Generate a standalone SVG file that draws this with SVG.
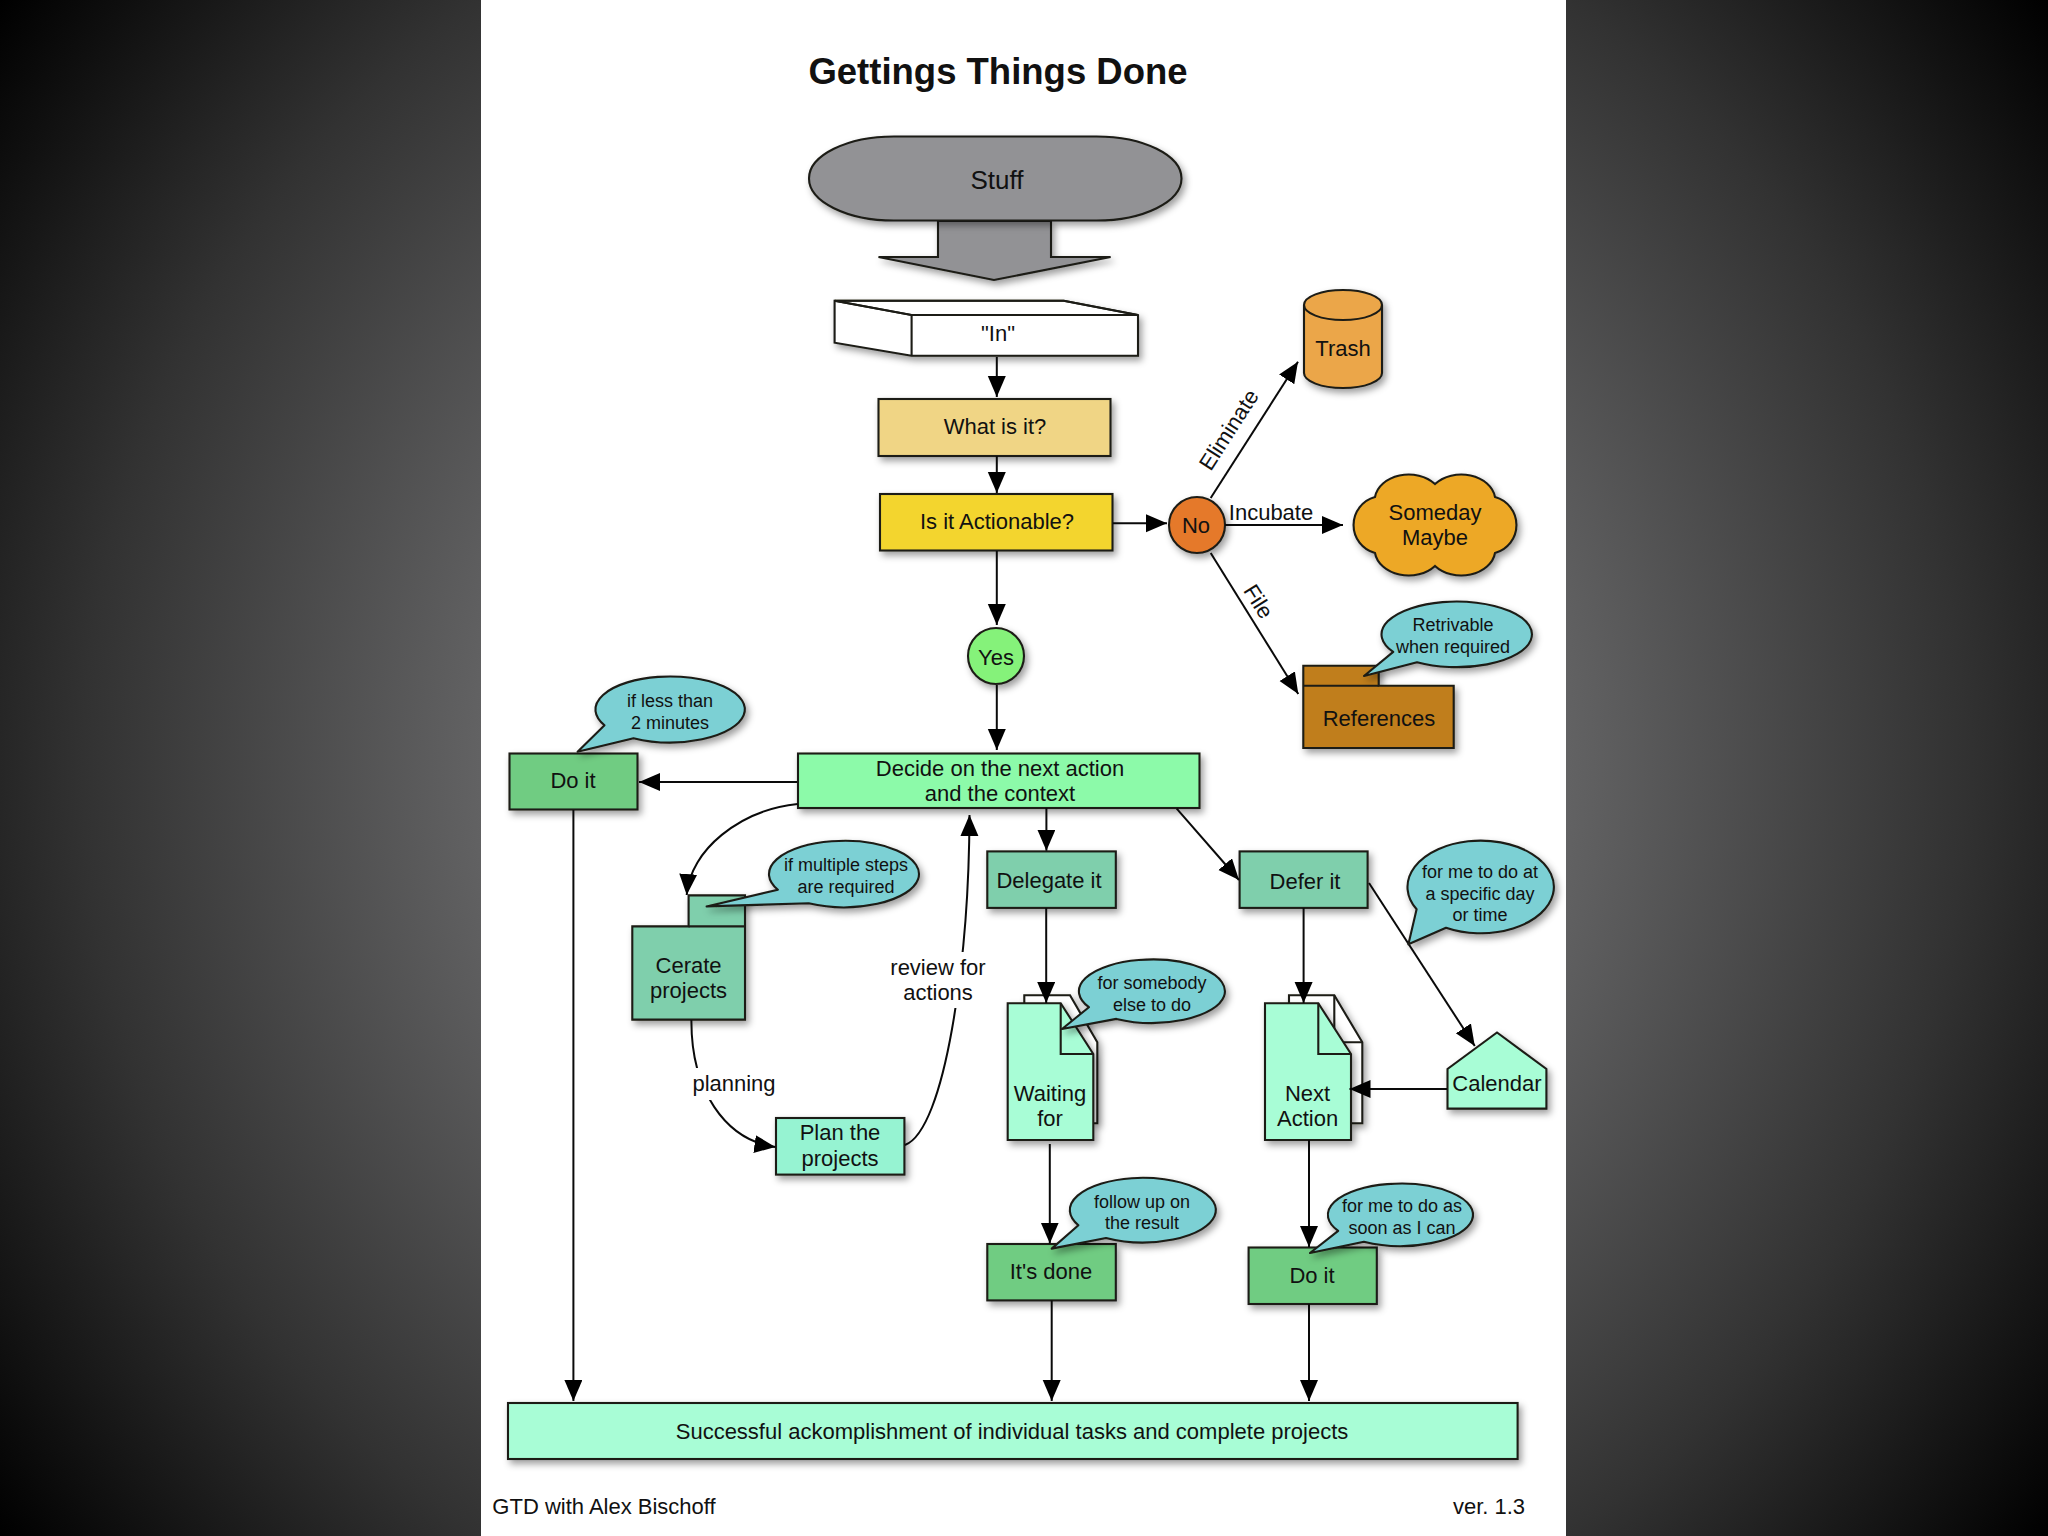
<svg xmlns="http://www.w3.org/2000/svg" width="2048" height="1536" viewBox="0 0 2048 1536">
<defs>
<radialGradient id="bg" gradientUnits="userSpaceOnUse" cx="1024" cy="768" r="1280">
<stop offset="0" stop-color="#828284"/><stop offset="0.425" stop-color="#626263"/><stop offset="0.735" stop-color="#323232"/><stop offset="0.8" stop-color="#262626"/><stop offset="1" stop-color="#000"/>
</radialGradient>
<linearGradient id="topface" x1="0" y1="0" x2="1" y2="0"><stop offset="0" stop-color="#ececec"/><stop offset="1" stop-color="#d4d4d4"/></linearGradient>
<filter id="sh" x="-20%" y="-20%" width="150%" height="150%"><feDropShadow dx="3" dy="4" stdDeviation="3.5" flood-color="#000" flood-opacity="0.38"/></filter>
<marker id="ah" markerUnits="userSpaceOnUse" markerWidth="24" markerHeight="20" refX="21" refY="9" orient="auto"><path d="M0 0L21 9L0 18Z" fill="#000"/></marker>
</defs>
<style>
.n{stroke:#1c1c16;stroke-width:2.1;stroke-linejoin:miter;filter:url(#sh)}
.i{fill:none;stroke:#1c1c16;stroke-width:2.1}
.c{fill:none;stroke:#0a0a0a;stroke-width:2;marker-end:url(#ah)}
.b{fill:#7bd0d4;stroke:#1c1c16;stroke-width:2.1;stroke-linejoin:round;filter:url(#sh)}
text{font-family:"Liberation Sans",Arial,sans-serif;font-size:22px;fill:#111;text-anchor:middle}
.s{font-size:18px}
.lgr{fill:#7fcfac}.dgr{fill:#6fcc82}.mint{fill:#a8fdd6}
</style>
<rect width="2048" height="1536" fill="url(#bg)"/>
<rect x="481" y="0" width="1085" height="1536" fill="#fff"/>
<text id="title" x="998" y="84" style="font-size:36.5px;font-weight:bold">Gettings Things Done</text>
<g id="nodes">
<g id="stuff"><path class="n" fill="#929295" d="M938 221V257H878.500L994 280L1110.600 257H1051V221Z"/><rect class="n" x="809" y="136.500" width="372.500" height="84" rx="85" ry="42" fill="#929295"/><text x="997" y="189" style="font-size:26px">Stuff</text></g>
<g id="in"><path class="n" fill="#fff" d="M834.600 300.700H1063.700L1138 315V355.700H911.600L834.600 342.700Z"/><path fill="url(#topface)" class="i" d="M834.600 300.700H1063.700L1138 315H911.600Z"/><path class="i" d="M834.600 300.700L911.600 315V355.700M911.600 315H1138"/><text x="998" y="341">"In"</text></g>
<g id="what"><rect class="n" x="878.500" y="399" width="232" height="57" fill="#f0d585"/><text x="995" y="434">What is it?</text></g>
<g id="actionable"><rect class="n" x="880" y="494" width="232.500" height="56.500" fill="#f3d52f"/><text x="997" y="529">Is it Actionable?</text></g>
<g id="no"><circle class="n" cx="1197" cy="525" r="28" fill="#e5792a"/><text x="1196" y="533">No</text></g>
<g id="trash"><path class="n" fill="#eba648" d="M1304 305A39 15 0 0 1 1382 305V373A39 15 0 0 1 1304 373Z"/><path class="i" d="M1304 305A39 15 0 0 0 1382 305"/><text x="1343" y="356">Trash</text></g>
<g id="someday"><path class="n" fill="#eda826" d="M1435 484A34 26 0 0 1 1495 497A29 29 0 0 1 1495 553A34 26 0 0 1 1435 566A34 26 0 0 1 1375 553A29 29 0 0 1 1375 497A34 26 0 0 1 1435 484Z"/><text x="1435" y="520">Someday</text><text x="1435" y="545">Maybe</text></g>
<g id="references"><path class="n" fill="#c07e1b" d="M1303.300 665.700H1378.700V685.700H1453.700V748H1303.300Z"/><path class="i" d="M1303.300 685.700H1378.700"/><text x="1379" y="726">References</text></g>
<g id="yes"><circle class="n" cx="996" cy="656" r="28" fill="#85f27a"/><text x="996" y="665">Yes</text></g>
<g id="decide"><rect class="n" x="798" y="753.500" width="401.500" height="54.500" fill="#8cfaa9"/><text x="1000" y="776">Decide on the next action</text><text x="1000" y="801">and the context</text></g>
<g id="doit1"><rect class="n dgr" x="509.500" y="753.500" width="128" height="56"/><text x="573" y="788">Do it</text></g>
<g id="projects"><path class="n lgr" d="M688.600 895.400H745V1019.600H632.300V926.400H688.600Z"/><path class="i" d="M688.600 926.400H745"/><text x="688.600" y="973">Cerate</text><text x="688.600" y="998">projects</text></g>
<g id="plan"><rect class="n" x="776" y="1118" width="128.400" height="56.600" fill="#96f3d2"/><text x="840" y="1140">Plan the</text><text x="840" y="1166">projects</text></g>
<g id="delegate"><rect class="n lgr" x="987.300" y="851.400" width="128.500" height="56.500"/><text x="1049" y="888">Delegate it</text></g>
<g id="defer"><rect class="n lgr" x="1239.600" y="851.400" width="128" height="56.500"/><text x="1305" y="889">Defer it</text></g>
<g id="waiting"><path class="n" fill="#fff" d="M1024.300 1003V995.300H1070L1097.300 1042.300V1123.300H1093"/><path class="n mint" d="M1007.700 1003.300H1060.700L1093.300 1054V1140H1007.700Z"/><path class="i" d="M1060.700 1003.300V1054H1093.300"/><text x="1050" y="1101">Waiting</text><text x="1050" y="1126">for</text></g>
<g id="next"><path class="n" fill="#fff" d="M1289 1003V995.300H1334.300L1362.300 1042.300V1123.300H1351"/><path class="i" d="M1334.300 995.300V1042.300H1362.300"/><path class="n mint" d="M1265 1003.300H1318.300L1351 1054V1140H1265Z"/><path class="i" d="M1318.300 1003.300V1054H1351"/><text x="1307.600" y="1101">Next</text><text x="1307.600" y="1126">Action</text></g>
<g id="calendar"><path class="n mint" d="M1447.500 1108.600H1546.400V1069L1497 1032.500L1447.500 1069Z"/><text x="1497" y="1091">Calendar</text></g>
<g id="done"><rect class="n dgr" x="987.300" y="1244" width="128.500" height="56.400"/><text x="1051" y="1279">It's done</text></g>
<g id="doit2"><rect class="n dgr" x="1248.600" y="1247.500" width="128.200" height="56.500"/><text x="1312" y="1283">Do it</text></g>
<g id="success"><rect class="n mint" x="508" y="1403" width="1009.600" height="56"/><text x="1012" y="1439">Successful ackomplishment of individual tasks and complete projects</text></g>
</g>
<g id="connectors">
<path class="c" d="M996.800 357V397"/>
<path class="c" d="M996.800 456V493"/>
<path class="c" d="M1113 523.300H1167"/>
<path class="c" d="M996.800 551V625"/>
<path class="c" d="M996.800 685V750"/>
<path class="c" d="M1210.700 498L1298 361.700"/>
<path class="c" d="M1225 525H1343"/>
<path class="c" d="M1210.700 553L1298.300 694"/>
<path class="c" d="M797 782H639"/>
<path class="c" d="M573.400 810V1401"/>
<path class="c" d="M797.600 804C740 810 690 850 686.700 895"/>
<path class="c" d="M691.400 1020C691 1090 725 1140 775.400 1147"/>
<path class="c" d="M905 1145C945 1130 969 960 969.500 815"/>
<path class="c" d="M1046.400 808V850.700"/>
<path class="c" d="M1046.200 908V1003"/>
<path class="c" d="M1176.700 808.600L1239 880"/>
<path class="c" d="M1303.600 908V1003"/>
<path class="c" d="M1369 883L1474.800 1046"/>
<path class="c" d="M1447 1089H1349.500"/>
<path class="c" d="M1049.800 1144V1243.600"/>
<path class="c" d="M1309 1140V1247"/>
<path class="c" d="M1051.700 1300.400V1401"/>
<path class="c" d="M1309 1304V1401"/>
<rect x="690" y="1068" width="88" height="32" fill="#fff"/><text x="734" y="1091">planning</text>
<rect x="888" y="952" width="100" height="56" fill="#fff"/><text x="938" y="975">review for</text><text x="938" y="1000">actions</text>
<text x="1271" y="520">Incubate</text>
<text transform="translate(1229.300 430) rotate(-57.400)" y="7">Eliminate</text>
<text transform="translate(1258 601.700) rotate(58)" y="7">File</text>
</g>
<g id="callouts">
<g id="c1"><path class="b" d="M577.600 751.800L604.500 725.200A74.700 33 0 1 1 633.500 738.200Z"/><text class="s" x="670" y="707">if less than</text><text class="s" x="670" y="728.600">2 minutes</text></g>
<g id="c2"><path class="b" d="M706.600 906.400L777.900 889.700A75 33.200 0 1 1 808.700 903.300Z"/><text class="s" x="846" y="870.500">if multiple steps</text><text class="s" x="846" y="892.500">are required</text></g>
<g id="c3"><path class="b" d="M1408.400 944.300L1416.600 909.300A73.200 46.300 0 1 1 1446 927.700Z"/><text class="s" x="1480" y="877.500">for me to do at</text><text class="s" x="1480" y="899.500">a specific day</text><text class="s" x="1480" y="921">or time</text></g>
<g id="c4"><path class="b" d="M1062 1029L1088.900 1007.200A73 31.700 0 1 1 1116.400 1018.900Z"/><text class="s" x="1152" y="989">for somebody</text><text class="s" x="1152" y="1010.500">else to do</text></g>
<g id="c5"><path class="b" d="M1051.700 1248.600L1078.400 1225.300A73 32.300 0 1 1 1106 1238Z"/><text class="s" x="1142" y="1207.500">follow up on</text><text class="s" x="1142" y="1229">the result</text></g>
<g id="c6"><path class="b" d="M1310 1253L1338.200 1230.900A72.600 31.200 0 1 1 1363.900 1241.800Z"/><text class="s" x="1402" y="1212">for me to do as</text><text class="s" x="1402" y="1234">soon as I can</text></g>
<g id="c7"><path class="b" d="M1364 676L1393.200 651.900A75.200 32.800 0 1 1 1417 662.200Z"/><text class="s" x="1453" y="631">Retrivable</text><text class="s" x="1453" y="653">when required</text></g>
</g>
<text x="604" y="1513.500">GTD with Alex Bischoff</text>
<text x="1489" y="1513.500">ver. 1.3</text>
</svg>
